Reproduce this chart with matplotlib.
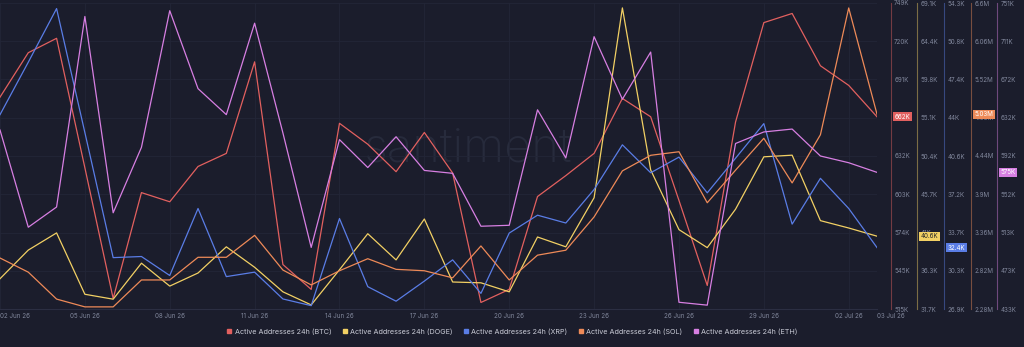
import pandas as pd
import numpy as np
import matplotlib
matplotlib.use('Agg')
import matplotlib.pyplot as plt
import matplotlib.transforms as mtransforms
from matplotlib.lines import Line2D

plt.rcParams['font.family'] = ['Inter', 'DejaVu Sans']

dates = pd.date_range('2026-06-02', '2026-07-03', freq='D')

# valori (indirizzi attivi 24h)
btc = [677, 711, 722, 623, 523, 604, 597, 624, 634, 704, 549, 530, 657, 641, 620, 650,
       619, 520, 530, 601, 617, 634, 676, 662, 598, 533, 658, 734, 741, 701, 686, 662]
doge = [35.4, 38.9, 41.0, 33.5, 32.9, 37.3, 34.5, 36.1, 39.3, 36.8, 33.8, 32.2, 36.5, 40.9, 37.7, 42.7,
        35.0, 34.9, 33.8, 40.5, 39.3, 45.3, 68.5, 48.7, 41.4, 39.2, 43.9, 50.3, 50.5, 42.5, 41.6, 40.6]
xrp = [44.3, 49.0, 53.8, 42.7, 31.5, 31.6, 29.9, 35.9, 29.8, 30.2, 27.8, 27.2, 35.0, 28.9, 27.6, 29.4,
       31.3, 28.3, 33.7, 35.3, 34.6, 37.6, 41.6, 39.1, 40.5, 37.3, 40.4, 43.5, 34.5, 38.6, 35.9, 32.4]
sol = [3.00, 2.80, 2.42, 2.31, 2.31, 2.69, 2.69, 3.01, 3.01, 3.32, 2.83, 2.62, 2.82, 2.99, 2.84, 2.82,
       2.72, 3.17, 2.69, 3.04, 3.11, 3.58, 4.23, 4.45, 4.50, 3.78, 4.24, 4.69, 4.06, 4.74, 6.53, 5.03]
eth = [619, 518, 539, 737, 533, 601, 743, 662, 635, 730, 616, 497, 609, 580, 612, 577,
       574, 519, 520, 640, 590, 716, 651, 700, 440, 437, 605, 617, 620, 592, 585, 575]

btc_ticks = ['515K', '545K', '574K', '603K', '632K', '662K', '691K', '720K', '749K']
doge_ticks = ['31.7K', '36.3K', '41K', '45.7K', '50.4K', '55.1K', '59.8K', '64.4K', '69.1K']
xrp_ticks = ['26.9K', '30.3K', '33.7K', '37.2K', '40.6K', '44K', '47.4K', '50.8K', '54.3K']
sol_ticks = ['2.28M', '2.82M', '3.36M', '3.9M', '4.44M', '4.98M', '5.52M', '6.06M', '6.6M']
eth_ticks = ['433K', '473K', '513K', '552K', '592K', '632K', '672K', '711K', '751K']

serie = [
    ('BTC', btc, '#e2605f', 515, 749, btc_ticks, '662K', 'white'),
    ('DOGE', doge, '#f2d064', 31.7, 69.1, doge_ticks, '40.6K', '#2a2a2a'),
    ('XRP', xrp, '#5a7de6', 26.9, 54.3, xrp_ticks, '32.4K', 'white'),
    ('SOL', sol, '#ee8a58', 2.28, 6.6, sol_ticks, '5.03M', 'white'),
    ('ETH', eth, '#d77fe2', 433, 751, eth_ticks, '575K', 'white'),
]

bg = '#1b1d2c'
grigio = '#80869b'
W, H = 1024, 347

fig = plt.figure(figsize=(W / 100, H / 100), dpi=100, facecolor=bg)
ax = fig.add_axes([0, 1 - 309 / H, 877 / W, 306 / H])
ax.set_facecolor(bg)

# posizione (in frazione dell'asse) degli assi y a destra
posizioni = [890.7 / 877, 917.3 / 877, 944 / 877, 970.7 / 877, 997.3 / 877]

ax.set_xlim(dates[0], dates[-1])
ax.set_yticks([])
for s in ['left', 'right', 'top']:
    ax.spines[s].set_visible(False)
ax.spines['bottom'].set_color('#2b2e42')
ax.spines['bottom'].set_linewidth(0.8)

xt = list(dates[::3]) + [dates[-1]]
ax.set_xticks(xt)
ax.set_xticklabels([d.strftime('%d %b %y') for d in xt])
ax.tick_params(axis='x', colors=grigio, labelsize=4.5, length=0, pad=3)
ax.get_xticklabels()[0].set_horizontalalignment('left')
ax.get_xticklabels()[-1].set_horizontalalignment('left')
ax.grid(axis='x', color='#232637', linewidth=0.6)

# scritta in filigrana
ax.text(0.533, 0.52, 'santiment', transform=ax.transAxes, ha='center', va='center',
        fontsize=34, color='#272b3c', fontweight='light', zorder=0)

handles = []
for i, (nome, valori, col, lo, hi, ticks, ultimo, txtcol) in enumerate(serie):
    tw = ax.twinx()
    tw.set_ylim(lo, hi)
    tw.plot(dates, valori, color=col, linewidth=0.9)
    tw.set_yticks(np.linspace(lo, hi, 9))
    tw.set_yticklabels(ticks)
    tw.tick_params(axis='y', colors=grigio, labelsize=4.5, length=0, pad=2.5)
    for s in ['left', 'top', 'bottom']:
        tw.spines[s].set_visible(False)
    tw.spines['right'].set_position(('axes', posizioni[i]))
    tw.spines['right'].set_color(col)
    tw.spines['right'].set_alpha(0.45)
    tw.spines['right'].set_linewidth(0.8)
    if i == 0:
        tw.grid(axis='y', color='#232637', linewidth=0.6)
    trans = mtransforms.blended_transform_factory(tw.transAxes, tw.transData)
    tw.text(posizioni[i] + 0.004, valori[-1], ultimo, transform=trans, ha='left', va='center',
            fontsize=4.5, color=txtcol, clip_on=False, zorder=10,
            bbox=dict(boxstyle='square,pad=0.25', facecolor=col, edgecolor='none'))
    handles.append(Line2D([], [], marker='s', linestyle='none', color=col, markersize=3.5))

fig.legend(handles, ['Active Addresses 24h (%s)' % s[0] for s in serie], loc='center',
           bbox_to_anchor=(0.5, 0.045), ncol=5, frameon=False, fontsize=5.2,
           labelcolor='#c9cbd6', handlelength=0.8, handletextpad=0.3, columnspacing=1.5)

fig.savefig('out.png', dpi=100, facecolor=bg)
